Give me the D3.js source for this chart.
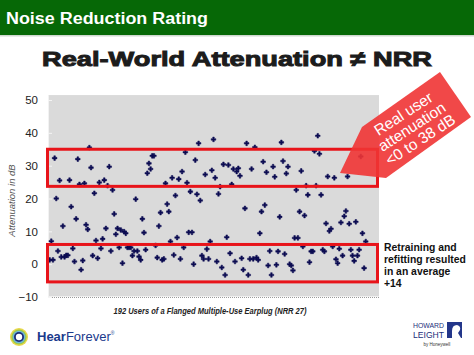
<!DOCTYPE html>
<html>
<head>
<meta charset="utf-8">
<script src="https://cdn.jsdelivr.net/npm/d3@7"></script>
<style>
  html, body { margin: 0; padding: 0; background: #fff; }
  svg { display: block; }
</style>
</head>
<body>
<svg id="chart" width="474" height="355"></svg>
<script>
// ---- data ----
const headerText = "Noise Reduction Rating";
const titleText = "Real-World Attenuation \u2260 NRR";
const xLabel = "192 Users of a Flanged Multiple-Use Earplug (NRR 27)";
const yLabel = "Attenuation in dB";
const yTicks = [-10, 0, 10, 20, 30, 40, 50];
const attenuation = [
  1.3, 7, 1.3, 32.3, 20, 4, 25.5, 2.2, 11.6, 2.2, 2.7, 2.7, 25.6, 17.5, 4.8, 0.8, 13.8, 32, 24.3, -1.7, 1.1, 24.6, 12, 10.6,
  35.5, 29.4, 2.6, 21.6, 7.2, 1.8, 24.9, 4.8, 7.7, 25.6, 10.9, 23.9, 29.7, 4, 22.6, 15.3,
  9.1, 10.9, 5.1, 10.4, 0.3, 9.9, 9.4, 5.1, 5.1, 5.1, 2.6, 4, 19.8, 4, 2.3, 1.3, 13.8, 9.6, 4.4,
  27.7, 30.7, 29, 33, 33, 5.7, 2, 11.6, 15.7, 1.3, 1.6, 24.6, 18.3, 16, 6.9, 26.3, 2.8, 20.9, 8.1, 25.9, 1.6, 28.2, 5.1, 34.1, 24.8, 9.7, 22.1, 9.7, 0,
  31.7, 21.3, 36.8, 19.4, 2.6, 1.6, 27.3, 4.6, 1.6, 6.9, 28.6, 38, 26.3, 0.8, 21.4,
  23.6, -1, 30.4, -3.3, 8.2, 30.2, 3.3, 24.3, 29, 0.8, 28.2, 29.2, 26.9, 1.8, -1.7, 17, 36.8, -3.3, 1.6, 29, 1.6, 35.6, 2, 1.3, 9.4, 16, 31.2, 18,
  28, -0.4, 4, -3.3, 29.7, 26.6, -0.2, 3.9, 14.4, 37.1, 31.4, 3.1, 27.6, 29.7, 0, -0.4, -1.9,
  8, 22.6, 8, 16, 28.4, 5.4, 14.8, 23.9, 21.1, 0.6, 3.9, 3.9, 34.5, 23.9, 39.1, 33.6, 21.1, 4.4,
  3.9, 12.4, 26.7, 10.1, 10.8, 5.4, 26.3, 1.5, 0.3, 4.7, 12.7, 2.6, 14.6, 16.2, 26.7, 12.3, 4.4, 2.6, 1, 12.9, 2.6, 4.4, 32.8, 9.4, -1.2, 6.9
];
const users = attenuation.map((d, i) => i + 1);
const bands = [[23.7, 35], [-5.4, 6]];
const calloutLines = ["Real user", "attenuation", "<0 to 38 dB"];
const noteLines = ["Retraining and", "refitting resulted", "in an average", "+14"];

// ---- layout ----
const svg = d3.select("#chart");
const x = d3.scaleLinear().domain([0, 200]).range([48, 379]);
const y = d3.scaleLinear().domain([-10, 50]).range([297, 100]);

// header bar
svg.append("rect").attr("x", 0).attr("y", 0).attr("width", 474).attr("height", 35).attr("fill", "#066806");
svg.append("rect").attr("x", 0).attr("y", 35).attr("width", 474).attr("height", 1.5).attr("fill", "#cfd8cf");
svg.append("text").attr("x", 6).attr("y", 24)
  .attr("font-family", "Liberation Sans, Arial, sans-serif").attr("font-weight", "bold")
  .attr("font-size", 16).attr("fill", "#fff")
  .attr("textLength", 202).attr("lengthAdjust", "spacingAndGlyphs")
  .text(headerText);

// title
svg.append("text").attr("x", 42).attr("y", 66)
  .attr("font-family", "Liberation Sans, Arial, sans-serif").attr("font-weight", "bold")
  .attr("font-size", 21).attr("fill", "#1c1c1c")
  .attr("stroke", "#1c1c1c").attr("stroke-width", 1)
  .attr("textLength", 390).attr("lengthAdjust", "spacingAndGlyphs")
  .text(titleText);

// plot background
const [yMinPx, yMaxPx] = [y(-10), y(51.5)];
svg.append("rect").attr("x", x(0)).attr("y", yMaxPx)
  .attr("width", x(200) - x(0)).attr("height", yMinPx - yMaxPx)
  .attr("fill", "#dadada");
svg.append("line").attr("x1", x(0) + 0.5).attr("x2", x(0) + 0.5).attr("y1", yMaxPx).attr("y2", yMinPx)
  .attr("stroke", "#f2f2f2").attr("stroke-width", 1);
svg.append("line").attr("x1", x(0)).attr("x2", x(200)).attr("y1", y(-10) + 0.5).attr("y2", y(-10) + 0.5)
  .attr("stroke", "#9a9a9a").attr("stroke-width", 1).attr("stroke-dasharray", "1,1");
svg.append("line").attr("x1", x(0)).attr("x2", x(200)).attr("y1", y(-10) - 0.5).attr("y2", y(-10) - 0.5)
  .attr("stroke", "#f0f0f0").attr("stroke-width", 1);

// y axis
const yAxis = d3.axisLeft(y).tickValues(yTicks).tickSize(-4).tickPadding(10);
const gy = svg.append("g").attr("transform", `translate(${x(0)},0)`).call(yAxis);
gy.select(".domain").remove();
gy.selectAll(".tick line").attr("stroke", "#f4f4f4");
gy.selectAll(".tick text").attr("font-family", "Liberation Sans, Arial, sans-serif")
  .attr("font-size", 11.5).attr("fill", "#222");

// y label
svg.append("text").attr("transform", `translate(15,${(y(-10) + y(50)) / 2 + 2}) rotate(-90)`)
  .attr("text-anchor", "middle").attr("font-family", "Liberation Sans, Arial, sans-serif")
  .attr("font-style", "italic").attr("font-size", 9.5).attr("fill", "#555")
  .text(yLabel);

// x label
svg.append("text").attr("x", 210).attr("y", 314).attr("text-anchor", "middle")
  .attr("font-family", "Liberation Sans, Arial, sans-serif").attr("font-style", "italic")
  .attr("font-weight", "bold").attr("font-size", 9.5).attr("fill", "#222")
  .attr("textLength", 193).attr("lengthAdjust", "spacingAndGlyphs")
  .text(xLabel);

// points
const sym = d3.symbol().type(d3.symbolCross).size(12);
svg.append("g").selectAll("path").data(users)
  .join("path")
  .attr("transform", (d, i) => `translate(${x(d)},${y(attenuation[i])})`)
  .attr("d", sym)
  .attr("fill", "#0c0c52").attr("stroke", "#0c0c52").attr("stroke-width", 0.5);

// red bands
svg.append("g").selectAll("rect").data(bands).join("rect")
  .attr("x", x(0) - 0.5).attr("width", x(200) - x(0) - 1)
  .attr("y", d => y(d[1])).attr("height", d => y(d[0]) - y(d[1]))
  .attr("fill", "none").attr("stroke", "#e8141a").attr("stroke-width", 3);

// callout arrow
const callout = [[340, 173], [362, 127], [440, 72], [471, 117], [386, 178]];
svg.append("path").attr("d", d3.line()(callout) + "Z")
  .attr("fill", "#ef3434").attr("fill-opacity", 0.9);
const ct = svg.append("text")
  .attr("transform", "translate(412,127) rotate(-33)")
  .attr("text-anchor", "middle").attr("font-family", "Liberation Sans, Arial, sans-serif")
  .attr("font-size", 15.5).attr("fill", "#fff");
calloutLines.forEach((t, i) => {
  ct.append("tspan").attr("x", 0).attr("y", (i - 1) * 15.5 + 5).text(t);
});

// side note (condensed bold)
const nt = svg.append("text").attr("transform", "translate(384,0) scale(0.88,1)")
  .attr("font-family", "Liberation Sans, Arial, sans-serif")
  .attr("font-weight", "bold").attr("font-size", 11.8).attr("fill", "#111");
noteLines.forEach((t, i) => {
  nt.append("tspan").attr("x", 0).attr("y", 251 + i * 12).text(t);
});

// HearForever logo
const lg = svg.append("g");
[[9, "#e8d84a"], [7.6, "#9cc94a"], [6.3, "#6fb7d8"], [5, "#1b2f7a"], [3.2, "#ffffff"]].forEach(([r, c]) => {
  lg.append("circle").attr("cx", 19).attr("cy", 337).attr("r", r).attr("fill", c);
});
const hf = svg.append("text").attr("x", 37).attr("y", 341)
  .attr("font-family", "Liberation Sans, Arial, sans-serif").attr("font-size", 13).attr("fill", "#1b3a8c");
hf.append("tspan").attr("font-weight", "bold").text("Hear");
hf.append("tspan").text("Forever");
hf.append("tspan").attr("font-size", 5).attr("dy", -6).text("\u00ae");

// Howard Leight logo
svg.append("text").attr("x", 413).attr("y", 327.5)
  .attr("font-family", "Liberation Sans, Arial, sans-serif").attr("font-size", 7).attr("fill", "#1b2f7a")
  .attr("textLength", 31).attr("lengthAdjust", "spacingAndGlyphs").text("HOWARD");
svg.append("text").attr("x", 413).attr("y", 337.5)
  .attr("font-family", "Liberation Sans, Arial, sans-serif").attr("font-size", 9.5).attr("fill", "#1b2f7a")
  .attr("textLength", 31).attr("lengthAdjust", "spacingAndGlyphs").text("LEIGHT");
svg.append("rect").attr("x", 447).attr("y", 322).attr("width", 15).attr("height", 16).attr("fill", "#23368a");
svg.append("path").attr("d", "M452,338 L452,331 Q452,325 457,325 Q461,326 460,330 L458,333 L461,338 Z").attr("fill", "#fff");
svg.append("text").attr("x", 437).attr("y", 345.5).attr("text-anchor", "middle")
  .attr("font-family", "Liberation Sans, Arial, sans-serif").attr("font-size", 4.5).attr("fill", "#333")
  .text("by Honeywell");
</script>
</body>
</html>
